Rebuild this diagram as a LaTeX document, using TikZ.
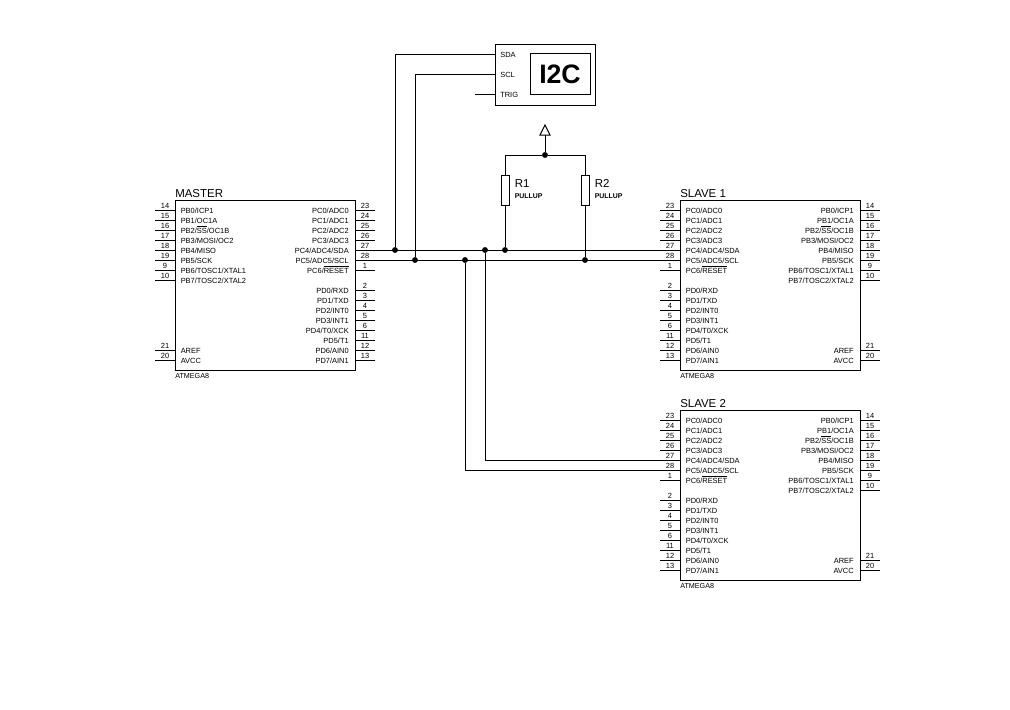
\documentclass[tikz,border=0pt]{standalone}
\usepackage{fontspec}
\setmainfont{Liberation Sans}
\usepackage{tikz}
\usetikzlibrary{calc}

\def\sideb{10/14/{PB0/ICP1},20/15/{PB1/OC1A},30/16/{PB2/$\overline{\hbox{SS}}$/OC1B},40/17/{PB3/MOSI/OC2},50/18/{PB4/MISO},60/19/{PB5/SCK},70/9/{PB6/TOSC1/XTAL1},80/10/{PB7/TOSC2/XTAL2},150/21/{AREF},160/20/{AVCC}}
\def\sidec{10/23/{PC0/ADC0},20/24/{PC1/ADC1},30/25/{PC2/ADC2},40/26/{PC3/ADC3},50/27/{PC4/ADC4/SDA},60/28/{PC5/ADC5/SCL},70/1/{PC6/$\overline{\hbox{RESET}}$},90/2/{PD0/RXD},100/3/{PD1/TXD},110/4/{PD2/INT0},120/5/{PD3/INT1},130/6/{PD4/T0/XCK},140/11/{PD5/T1},150/12/{PD6/AIN0},160/13/{PD7/AIN1}}

\newcommand{\chip}[6]{
  \begin{scope}[shift={(#2,#3)}]
    \node [chipbox] (#1) at (90,85) {};
    \node [chiptitle,anchor=base west] (#1title) at (0,-3) {#4};
    \node [chipname,anchor=base west] (#1name) at (0,178) {ATMEGA8};
    \foreach \y/\pinno/\txt in #5 {
      \coordinate (#1p\pinno) at (-20,\y);
      \draw [wire] (#1p\pinno) -- (0,\y);
      \node [pintext,anchor=base] (#1n\pinno) at (-10,\y-2) {\pinno};
      \node [pintext,anchor=base west] (#1t\pinno) at (5.5,\y+3) {\txt};
    }
    \foreach \y/\pinno/\txt in #6 {
      \coordinate (#1p\pinno) at (200,\y);
      \draw [wire] (#1p\pinno) -- (180,\y);
      \node [pintext,anchor=base] (#1n\pinno) at (190,\y-2) {\pinno};
      \node [pintext,anchor=base east] (#1t\pinno) at (174,\y+3) {\txt};
    }
  \end{scope}
}

\begin{document}
\begin{tikzpicture}[x=0.75pt,y=-0.75pt]
  \tikzset{
    wire/.style={line width=0.75pt},
    chipbox/.style={draw,line width=0.75pt,minimum width=135pt,minimum height=127.5pt,inner sep=0pt,outer sep=0pt},
    chiptitle/.style={inner sep=0pt,font=\fontsize{8.6}{9}\selectfont},
    chipname/.style={inner sep=0pt,font=\fontsize{5.4}{6}\selectfont},
    pintext/.style={inner sep=0pt,font=\fontsize{5.6}{6}\selectfont},
    mark coordinate/.style={inner sep=0pt,
      outer sep=0pt,
      minimum size=4.4pt,
      fill=#1,
      circle}
  }
  \useasboundingbox (0,0) rectangle (1010,710);
  \fill [white] (0,0) rectangle (1010,710);

  \chip{M}{175}{200}{MASTER}{\sideb}{\sidec}
  \chip{A}{680}{200}{SLAVE 1}{\sidec}{\sideb}
  \chip{B}{680}{410}{SLAVE 2}{\sidec}{\sideb}

  % I2C probe
  \node [draw,line width=0.75pt,minimum width=75pt,minimum height=45pt,inner sep=0pt] (I2C) at (545,75) {};
  \node [draw,line width=0.75pt,minimum width=45pt,minimum height=30.75pt,inner sep=0pt,
    font=\fontsize{20}{22}\bfseries\selectfont] (I2Ctext) at (560,74.5) {I2C};
  \coordinate (Isda) at (495,55);
  \coordinate (Iscl) at (495,75);
  \coordinate (Itrig) at (495,95);
  \coordinate (Itrigend) at (475,95);
  \node [pintext,anchor=base west] (Tsda) at (500,58) {SDA};
  \node [pintext,anchor=base west] (Tscl) at (500,78) {SCL};
  \node [pintext,anchor=base west] (Ttrig) at (500,98) {TRIG};
  \draw [wire] (Itrigend) -- (Itrig);

  % bus
  \draw [wire] (Mp27) -- (Ap27);
  \draw [wire] (Mp28) -- (Ap28);
  \node [mark coordinate=black] (J1) at (395,250) {};
  \node [mark coordinate=black] (J2) at (415,260) {};
  \node [mark coordinate=black] (J3) at (465,260) {};
  \node [mark coordinate=black] (J4) at (485,250) {};
  \node [mark coordinate=black] (J5) at (505,250) {};
  \node [mark coordinate=black] (J6) at (585,260) {};
  \node [mark coordinate=black] (J7) at (545,155) {};
  \draw [wire] (J1) |- (Isda);
  \draw [wire] (J2) |- (Iscl);
  \draw [wire] (J3) |- (Bp28);
  \draw [wire] (J4) |- (Bp27);

  % pullups
  \node [draw,line width=0.75pt,minimum width=6pt,minimum height=22.5pt,inner sep=0pt] (R1) at (505,190) {};
  \node [draw,line width=0.75pt,minimum width=6pt,minimum height=22.5pt,inner sep=0pt] (R2) at (585,190) {};
  \node [chiptitle,anchor=base west] (R1name) at (514.5,187) {R1};
  \node [chiptitle,anchor=base west] (R2name) at (594.5,187) {R2};
  \node [inner sep=0pt,anchor=base west,font=\fontsize{5.2}{6}\bfseries\selectfont] (R1val) at (514.5,198) {PULLUP};
  \node [inner sep=0pt,anchor=base west,font=\fontsize{5.2}{6}\bfseries\selectfont] (R2val) at (594.5,198) {PULLUP};
  \draw [wire] (J5) -- (R1);
  \draw [wire] (J6) -- (R2);
  \draw [wire] (R1) |- (J7);
  \draw [wire] (R2) |- (J7);

  % supply
  \coordinate (Vcc) at (545,135);
  \draw [wire] (J7) -- (Vcc);
  \draw [wire] (540,135) -- (550,135) -- (545,125) -- cycle;
\end{tikzpicture}
\end{document}
